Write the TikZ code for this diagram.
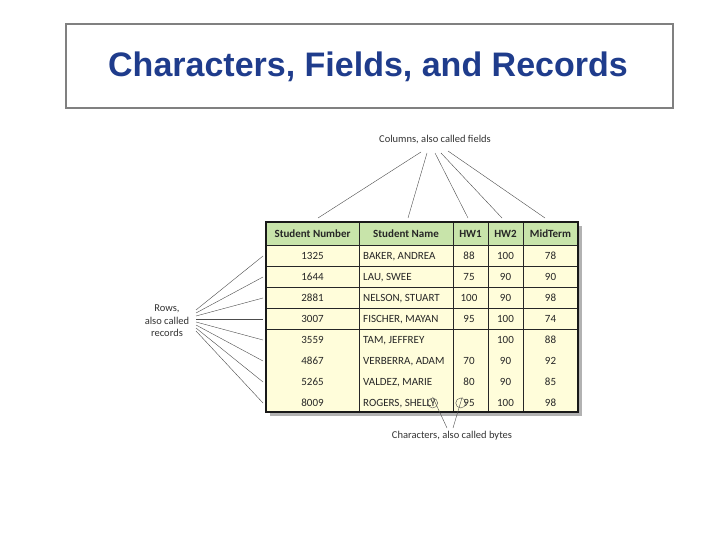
\documentclass[tikz,border=0pt]{standalone}
\usepackage{fontspec}
\setmainfont{Carlito}
\newfontfamily\titlefont{Liberation Sans}
\definecolor{cellbg}{RGB}{255,253,218}
\definecolor{headbg}{RGB}{200,228,170}
\begin{document}
\begin{tikzpicture}[x=1pt,y=-1pt,
  cell/.style={font=\fontsize{11}{12}\selectfont, text=black!85, anchor=center, inner sep=0, text height=7.5pt, text depth=0pt},
  head/.style={font=\fontsize{11}{12}\selectfont\bfseries, text=black!85, anchor=center, inner sep=0},
  lbl/.style={font=\fontsize{10.5}{12.5}\selectfont, text=black!80, align=center, inner sep=1pt},
  ptr/.style={draw=black!70, line width=0.4pt}]
\useasboundingbox (0,0) rectangle (720,540);
\fill[white] (0,0) rectangle (720,540);
% title
\node[draw=black!50, line width=1.5pt, minimum width=607, minimum height=84, inner sep=0] (title) at (369.5,66) {};
\node[font=\titlefont\bfseries\fontsize{34}{38}\selectfont, text={rgb,255:red,31;green,60;blue,140}] (tt) at (368,67) {Characters, Fields, and Records};
% table
\fill[black!30] (270,226) rectangle (582,416);
\fill[cellbg] (266,222) rectangle (578,412);
\fill[headbg] (266,222) rectangle (578,245);
\draw[black!85, line width=0.7pt] (266,245) -- (578,245);
\foreach \y in {266,287,308,329} \draw[black!85, line width=0.7pt] (266,\y) -- (578,\y);
\foreach \x in {359,453,488,523} \draw[black!85, line width=0.7pt] (\x,222) -- (\x,412);
\draw[black!90, line width=2pt] (266,222) rectangle (578,412);
\node[head] (h1) at (312.5,234) {Student Number};
\node[head] (h2) at (406,234) {Student Name};
\node[head] (h3) at (470.5,234) {HW1};
\node[head] (h4) at (505.5,234) {HW2};
\node[head] (h5) at (550.5,234) {MidTerm};
\foreach \i/\n/\nm/\a/\b/\c in {1/1325/{BAKER, ANDREA}/88/100/78,2/1644/{LAU, SWEE}/75/90/90,3/2881/{NELSON, STUART}/100/90/98,4/3007/{FISCHER, MAYAN}/95/100/74,5/3559/{TAM, JEFFREY}//100/88,6/4867/{VERBERRA, ADAM}/70/90/92,7/5265/{VALDEZ, MARIE}/80/90/85,8/8009/{ROGERS, SHELLY}/95/100/98}{
  \pgfmathsetmacro{\yy}{235+21*\i}
  \node[cell] (n\i) at (312.5,\yy) {\n};
  \node[cell, anchor=west] (m\i) at (363,\yy) {\nm};
  \node[cell] (a\i) at (469,\yy) {\a};
  \node[cell] (b\i) at (505.5,\yy) {\b};
  \node[cell] (c\i) at (550.5,\yy) {\c};
  \coordinate (r\i) at (263,\yy);
}
\draw[black!70, line width=0.4pt] ([xshift=-3.3]m8.east) circle (5);
\draw[black!70, line width=0.4pt] ([xshift=-2.5]a8.west) circle (5);
% labels
\node[lbl] (cols) at (435,140) {Columns, also called fields};
\node[lbl] (rows) at (167,321) {Rows,\\also called\\records};
\node[lbl] (chars) at (452,436) {Characters, also called bytes};
\coordinate (k1) at (318,218);
\coordinate (k2) at (408,218);
\coordinate (k3) at (468,218);
\coordinate (k4) at (502,218);
\coordinate (k5) at (545,218);
\draw[ptr] (421,152) -- (k1);
\draw[ptr] (427,153) -- (k2);
\draw[ptr] (435,153) -- (k3);
\draw[ptr] (441,153) -- (k4);
\draw[ptr] (448,151) -- (k5);
\foreach \i/\s in {1/310,2/313,3/316,4/319,5/322,6/325,7/328,8/331}
  \draw[ptr] (196,\s) -- (r\i);
\draw[ptr] (447,428) -- ([xshift=-3.3,yshift=6]m8.east);
\draw[ptr] (453,428) -- ([xshift=-1,yshift=6]a8.west);
\end{tikzpicture}
\end{document}
